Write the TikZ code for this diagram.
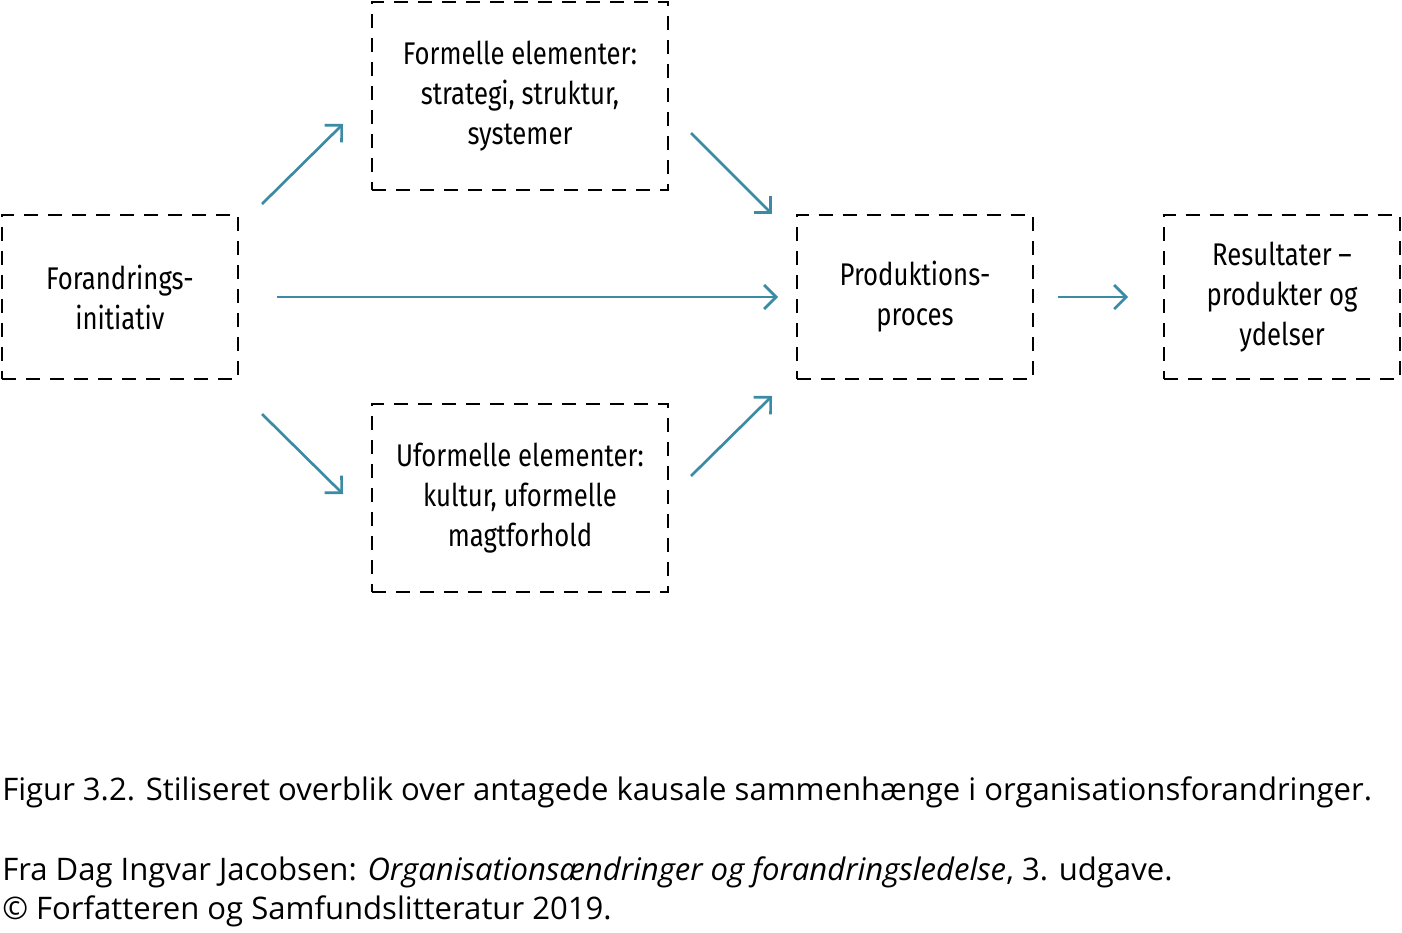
\documentclass[tikz,border=0pt]{standalone}
\usepackage{fontspec}
\setmainfont{Open Sans}
\newfontfamily\boxfont[FakeStretch=0.82]{Fira Sans}
\usetikzlibrary{arrows.meta}
\definecolor{teal}{HTML}{3B8BA5}
\begin{document}
\begin{tikzpicture}[x=0.75pt,y=-0.75pt,
  box/.style={draw,line width=2.2pt,dash pattern=on 10.5pt off 7.5pt,minimum width=177pt,minimum height=123pt,align=center,font=\boxfont\fontsize{23.5}{30}\selectfont,inner sep=0pt},
  bigbox/.style={box,minimum width=222pt,minimum height=141pt},
  arr/.style={teal,line width=2pt,-{Straight Barb[length=9pt,width=18pt,line width=2pt]}},
  captext/.style={anchor=west,inner sep=0pt,font=\fontsize{23.3}{28}\selectfont}]
\useasboundingbox (0,0) rectangle (1402,932);
\node[box] (a) at (120,297) {Forandrings-\\initiativ};
\node[bigbox] (f) at (520,96) {Formelle elementer:\\strategi, struktur,\\systemer};
\node[bigbox] (u) at (520,498) {Uformelle elementer:\\kultur, uformelle\\magtforhold};
\node[box] (p) at (915,297) {Produktions-\\proces};
\node[box] (r) at (1282,297) {Resultater –\\produkter og\\ydelser};
\coordinate (a1) at (262,204); \coordinate (f1) at (343,124);
\coordinate (a2) at (277,297); \coordinate (p2) at (778,297);
\coordinate (a3) at (262,414); \coordinate (u3) at (343,494);
\coordinate (f4) at (691,133); \coordinate (p4) at (772,214);
\coordinate (u5) at (691,476); \coordinate (p5) at (772,396);
\coordinate (p6) at (1058,297); \coordinate (r6) at (1128,297);
\draw[arr] (a1) -- (f1);
\draw[arr] (a2) -- (p2);
\draw[arr] (a3) -- (u3);
\draw[arr] (f4) -- (p4);
\draw[arr] (u5) -- (p5);
\draw[arr] (p6) -- (r6);
\node[captext] (c1) at (2,792) {Figur 3.2. Stiliseret overblik over antagede kausale sammenhænge i organisationsforandringer.};
\node[captext] (c2) at (2,872) {Fra Dag Ingvar Jacobsen: \textit{Organisationsændringer og forandringsledelse}, 3. udgave.};
\node[captext] (c3) at (2,911) {© Forfatteren og Samfundslitteratur 2019.};
\end{tikzpicture}
\end{document}
